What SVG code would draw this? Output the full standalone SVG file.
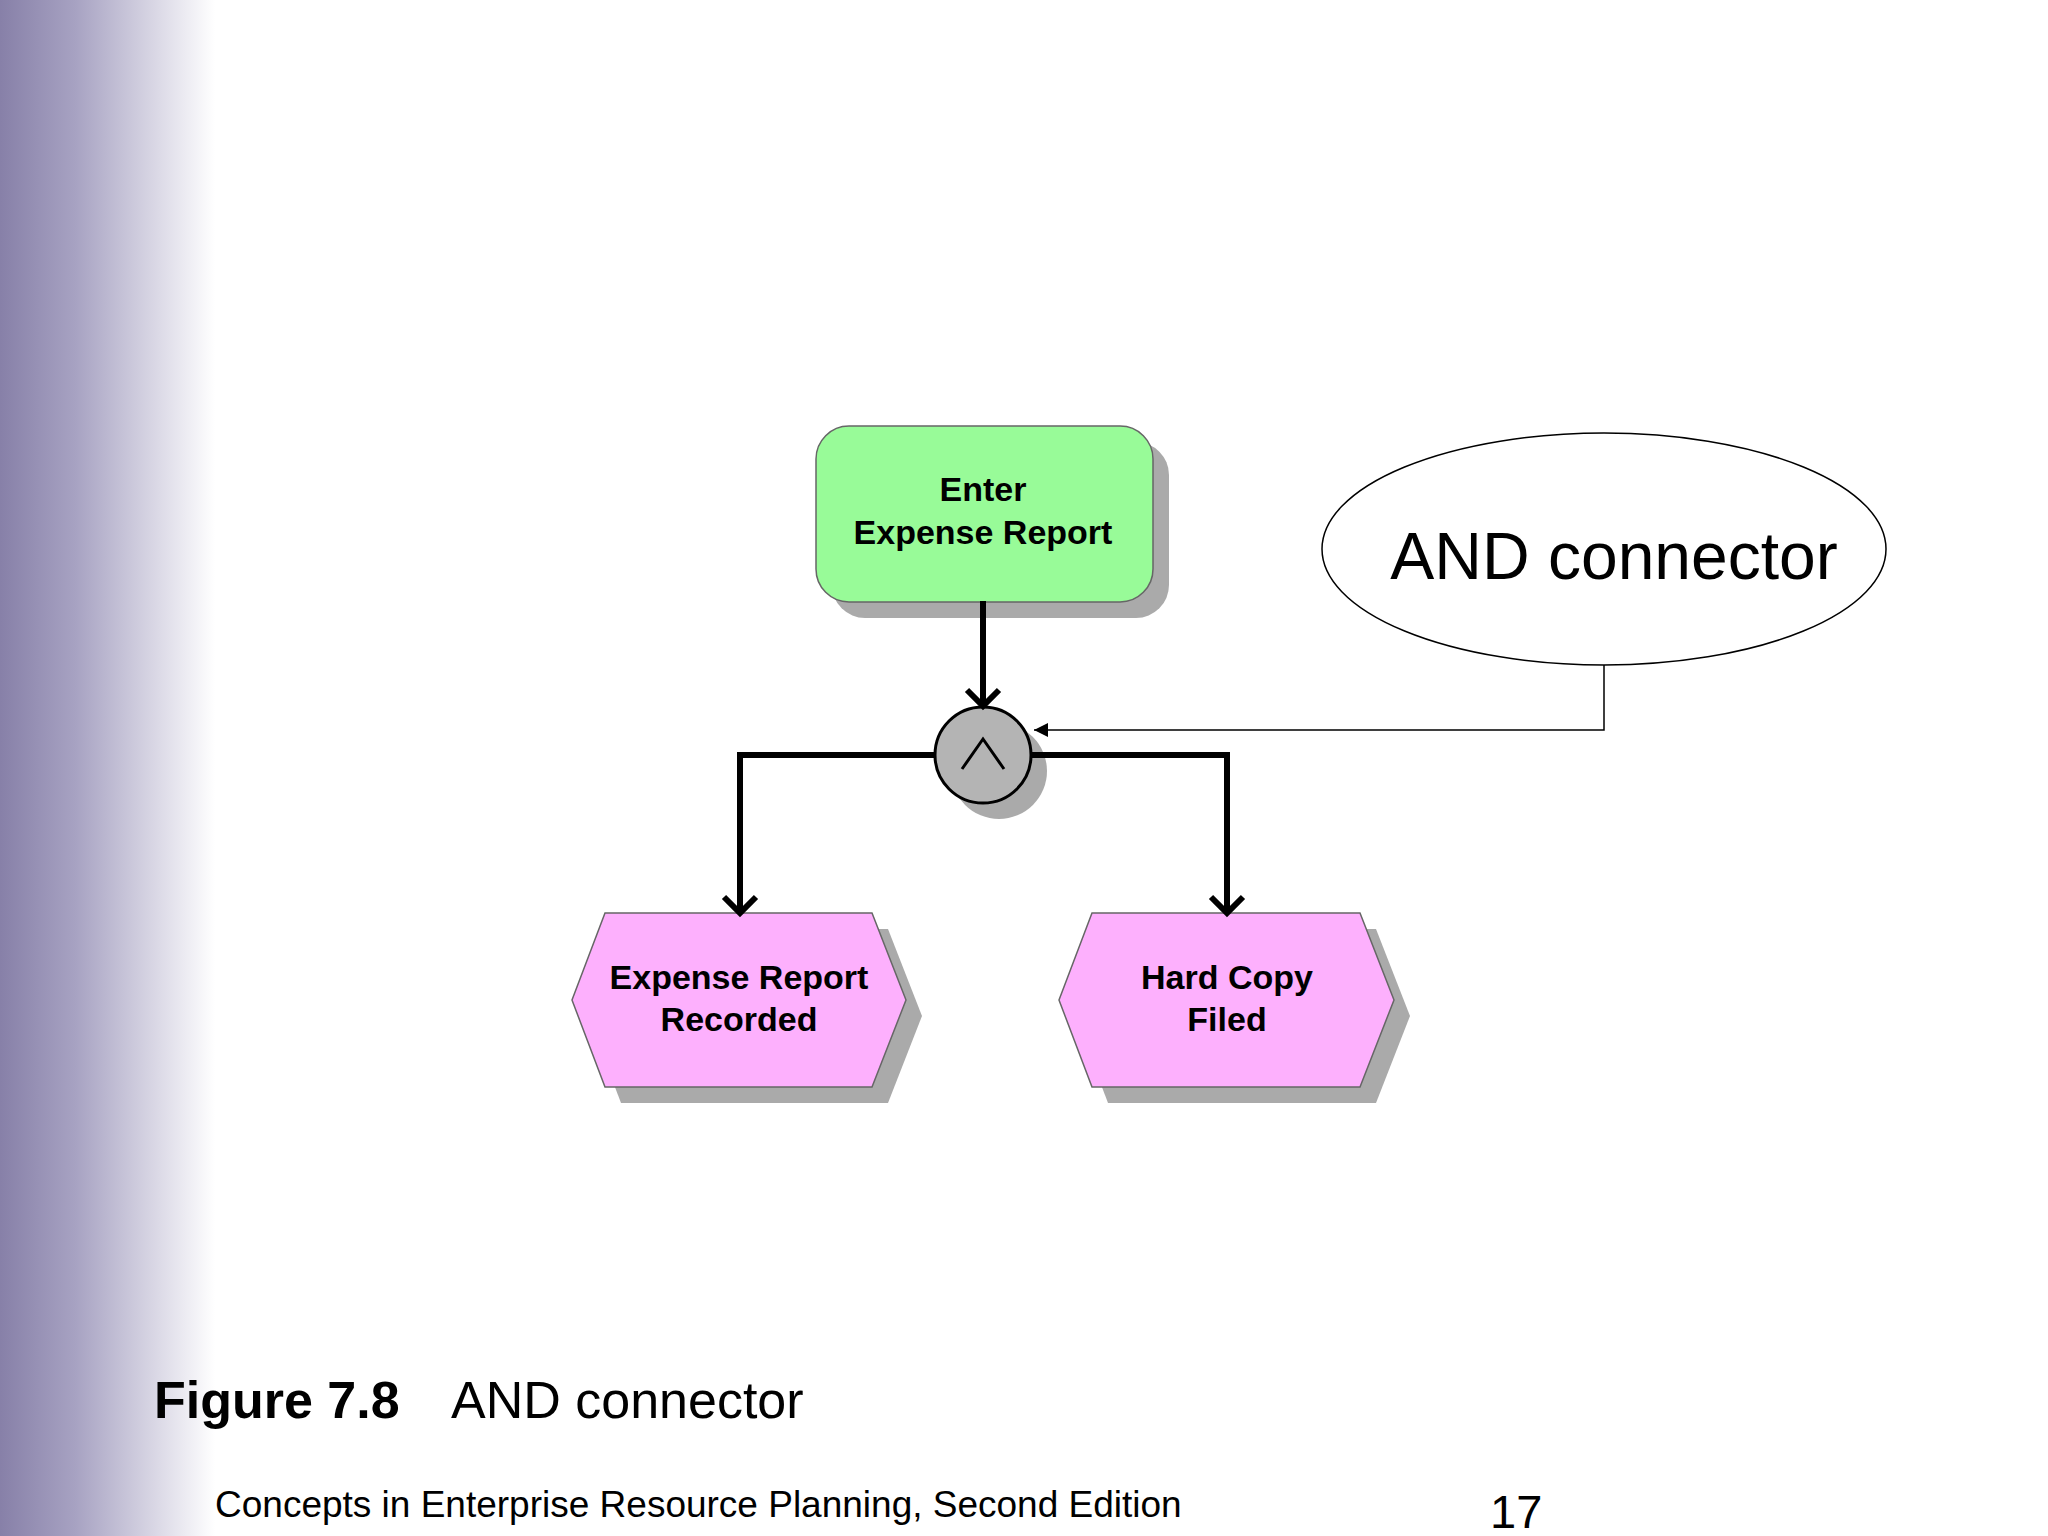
<svg xmlns="http://www.w3.org/2000/svg" width="2048" height="1536" viewBox="0 0 2048 1536">
<defs>
<linearGradient id="side" x1="0" x2="1" y1="0" y2="0">
<stop offset="0" stop-color="#8780a8"/><stop offset="0.35" stop-color="#a7a2c2"/><stop offset="1" stop-color="#ffffff"/>
</linearGradient>
<marker id="chev" viewBox="0 0 20 12" refX="10" refY="11" markerWidth="20" markerHeight="12" markerUnits="userSpaceOnUse" orient="auto-start-reverse">
</marker>
<marker id="tri" viewBox="0 0 10 10" refX="10" refY="5" markerWidth="16" markerHeight="14" markerUnits="userSpaceOnUse" orient="auto">
<path d="M0,0 L10,5 L0,10 z" fill="#000"/>
</marker>
</defs>
<style>
.lbl{font-family:"Liberation Sans",Arial,sans-serif;font-weight:bold;font-size:34px;text-anchor:middle;fill:#000}
.shadow{fill:#aaaaaa}
.flow{fill:none;stroke:#000;stroke-width:6}
</style>
<rect width="2048" height="1536" fill="#fff"/>
<rect width="215" height="1536" fill="url(#side)"/>

<g id="enter-expense-report">
<rect x="832" y="442" width="337" height="176" rx="33" class="shadow"/>
<rect x="816" y="426" width="337" height="176" rx="33" fill="#98fb98" stroke="#666" stroke-width="1.5"/>
<text class="lbl" x="983" y="501">Enter</text>
<text class="lbl" x="983" y="544">Expense Report</text>
</g>

<g id="and-gate">
<circle cx="999" cy="771" r="48" class="shadow"/>
<circle cx="983" cy="755" r="48" fill="#b4b4b4" stroke="#000" stroke-width="3"/>
<polyline points="962,769 983,739 1004,769" fill="none" stroke="#000" stroke-width="3"/>
</g>

<g id="expense-report-recorded">
<polygon points="588,1016 621,929 888,929 922,1016 888,1103 621,1103" class="shadow"/>
<polygon points="572,1000 605,913 872,913 906,1000 872,1087 605,1087" fill="#fdb0fd" stroke="#666" stroke-width="1.5"/>
<text class="lbl" x="739" y="989">Expense Report</text>
<text class="lbl" x="739" y="1031">Recorded</text>
</g>

<g id="hard-copy-filed">
<polygon points="1075,1016 1108,929 1376,929 1410,1016 1376,1103 1108,1103" class="shadow"/>
<polygon points="1059,1000 1092,913 1360,913 1394,1000 1360,1087 1092,1087" fill="#fdb0fd" stroke="#666" stroke-width="1.5"/>
<text class="lbl" x="1227" y="989">Hard Copy</text>
<text class="lbl" x="1227" y="1031">Filed</text>
</g>

<g id="callout">
<ellipse cx="1604" cy="549" rx="282" ry="116" fill="#fff" stroke="#000" stroke-width="1.5"/>
<text x="1614" y="579" font-family="Liberation Sans,Arial,sans-serif" font-size="66" text-anchor="middle">AND connector</text>
</g>

<g id="connectors">
<line class="flow" x1="983" y1="601" x2="983" y2="705"/>
<polyline class="flow" points="967,690 983,706 999,690"/>
<polyline class="flow" points="936,755 740,755 740,912"/>
<polyline class="flow" points="724,897 740,913 756,897"/>
<polyline class="flow" points="1030,755 1227,755 1227,912"/>
<polyline class="flow" points="1211,897 1227,913 1243,897"/>
<polyline points="1604,665 1604,730 1034,730" fill="none" stroke="#000" stroke-width="1.5" marker-end="url(#tri)"/>
</g>

<text x="154" y="1418" font-family="Liberation Sans,Arial,sans-serif" font-size="52"><tspan font-weight="bold">Figure 7.8</tspan><tspan x="451">AND connector</tspan></text>
<text x="215" y="1517" font-family="Liberation Sans,Arial,sans-serif" font-size="37">Concepts in Enterprise Resource Planning, Second Edition</text>
<text x="1490" y="1528" font-family="Liberation Sans,Arial,sans-serif" font-size="47">17</text>
</svg>
